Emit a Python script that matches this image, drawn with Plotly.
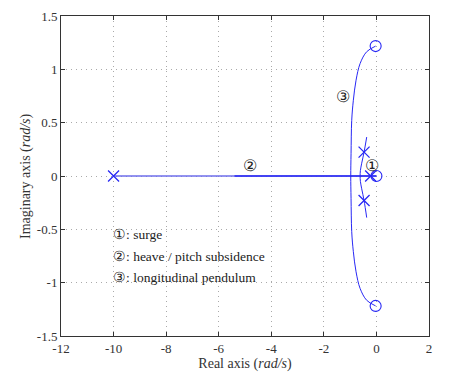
import plotly.graph_objects as go

# Poles and zeros
pole_re = [-10.0, -0.22, -0.47, -0.47]
pole_im = [0.0, 0.0, 0.224, -0.23]
zero_re = [0.0, -0.03, -0.03]
zero_im = [0.0, 1.218, -1.218]

# Branch 3: large arc (longitudinal pendulum)
arc_re = [-0.03, -0.37, -0.62, -0.775, -0.878, -0.94, -0.965, -0.977,
          -0.965, -0.94, -0.878, -0.775, -0.62, -0.37, -0.03]
arc_im = [1.218, 1.165, 1.055, 0.898, 0.71, 0.522, 0.209, 0.0,
          -0.209, -0.522, -0.71, -0.898, -1.055, -1.165, -1.218]

# Small arc through complex poles
small_re = [-0.37, -0.47, -0.56, -0.61, -0.62, -0.61, -0.56, -0.47, -0.37]
small_im = [0.365, 0.224, 0.12, 0.05, 0.0, -0.05, -0.12, -0.23, -0.39]

# Branch 2: real axis segments
real1_re = [-10.0, 0.0]
real2_re = [-5.4, 0.0]

x_ticks = [-12, -10, -8, -6, -4, -2, 0, 2]
x_labels = ["-12", "-10", "-8", "-6", "-4", "-2", "0", "2"]
y_ticks = [-1.5, -1, -0.5, 0, 0.5, 1, 1.5]
y_labels = ["-1.5", "-1", "-0.5", "0", "0.5", "1", "1.5"]

labels_text = ["①", "②", "③"]
labels_re = [-0.15, -4.8, -1.27]
labels_im = [0.1, 0.1, 0.75]

legend_lines = ["①: surge", "②: heave / pitch subsidence", "③: longitudinal pendulum"]
legend_im = [-0.55, -0.75, -0.95]
legend_re = -10.1

blue = "rgb(40,40,245)"
font_fam = "Liberation Serif, DejaVu Serif, serif"

fig = go.Figure()
fig.add_trace(go.Scatter(x=real1_re, y=[0, 0], mode="lines",
                         line=dict(color="rgb(110,110,235)", width=1.3), hoverinfo="skip"))
fig.add_trace(go.Scatter(x=real2_re, y=[0, 0], mode="lines",
                         line=dict(color=blue, width=1.3), hoverinfo="skip"))
fig.add_trace(go.Scatter(x=arc_re, y=arc_im, mode="lines", line_shape="spline",
                         line=dict(color=blue, width=1), hoverinfo="skip"))
fig.add_trace(go.Scatter(x=small_re, y=small_im, mode="lines", line_shape="spline",
                         line=dict(color=blue, width=1), hoverinfo="skip"))
fig.add_trace(go.Scatter(x=pole_re, y=pole_im, mode="markers",
                         marker=dict(symbol="x-thin-open", size=11, color=blue,
                                     line=dict(color=blue, width=1.3))))
fig.add_trace(go.Scatter(x=zero_re, y=zero_im, mode="markers",
                         marker=dict(symbol="circle-open", size=11, color=blue,
                                     line=dict(color=blue, width=1.1))))

for t, xr, yi in zip(labels_text, labels_re, labels_im):
    fig.add_annotation(x=xr, y=yi, text=t, showarrow=False,
                       font=dict(family=font_fam, size=16, color="#222"))
for t, yi in zip(legend_lines, legend_im):
    fig.add_annotation(x=legend_re, y=yi, text=t, showarrow=False, xanchor="left",
                       font=dict(family=font_fam, size=13.5, color="#222"))

# y-axis title as rotated annotation for precise placement
fig.add_annotation(x=0, y=0.5, xref="paper", yref="paper", xshift=-35,
                   xanchor="center", yanchor="middle",
                   text="Imaginary axis (<i>rad/s</i>)", textangle=-90, showarrow=False,
                   font=dict(family=font_fam, size=14, color="#333"))

axis_common = dict(showline=True, linecolor="#333", linewidth=1, mirror="ticks",
                   ticks="inside", ticklen=4, tickcolor="#333", automargin=False,
                   showgrid=True, gridcolor="#aaaaaa", griddash="1px,4px", gridwidth=1,
                   zeroline=False, tickfont=dict(family=font_fam, size=13, color="#333"))

fig.update_xaxes(range=[-12, 2], tickvals=x_ticks, ticktext=x_labels,
                 title=dict(text="Real axis (<i>rad/s</i>)", standoff=2,
                            font=dict(family=font_fam, size=14, color="#333")),
                 **axis_common)
fig.update_yaxes(range=[-1.5, 1.5], tickvals=y_ticks, ticktext=y_labels,
                 **axis_common)

fig.update_layout(width=474, height=379, showlegend=False,
                  plot_bgcolor="white", paper_bgcolor="white",
                  margin=dict(l=53, r=53, t=8, b=51))

fig.write_html("out.html")
